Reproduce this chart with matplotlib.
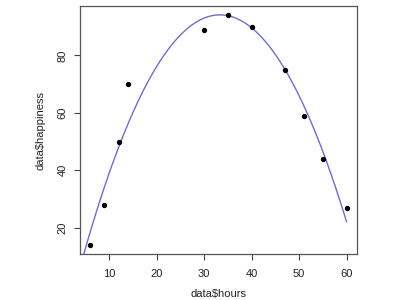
import numpy as np
import matplotlib
matplotlib.use("Agg")
import matplotlib.pyplot as plt

plt.rcParams["font.family"] = ["Liberation Sans", "DejaVu Sans"]

hours = [6, 9, 12, 14, 30, 35, 40, 47, 51, 55, 60]
happiness = [14, 28, 50, 70, 89, 94, 90, 75, 59, 44, 27]
x_ticks = [10, 20, 30, 40, 50, 60]
y_ticks = [20, 40, 60, 80]

# quadratic model, as in lm(happiness ~ hours + I(hours^2))
coef = np.polyfit(hours, happiness, 2)
grid = np.linspace(0, 60, 300)
fit = np.polyval(coef, grid)

fig = plt.figure(figsize=(4, 3), dpi=100)
ax = fig.add_axes([0.2, 0.153, 0.692, 0.827])

ax.plot(grid, fit, color="#6e6ec8", linewidth=1.0)
ax.scatter(hours, happiness, s=8, color="black", zorder=3)

# R-style 4% padding
xr = max(hours) - min(hours)
yr = max(happiness) - min(happiness)
ax.set_xlim(min(hours) - 0.04 * xr, max(hours) + 0.04 * xr)
ax.set_ylim(min(happiness) - 0.04 * yr, max(happiness) + 0.04 * yr)

ax.set_xticks(x_ticks)
ax.set_yticks(y_ticks)
ax.tick_params(length=4, width=0.8, color="#444444", labelcolor="#222222", labelsize=8)
ax.tick_params(axis="x", pad=7)
ax.tick_params(axis="y", pad=5)
for lab in ax.get_yticklabels():
    lab.set_rotation(90)
    lab.set_va("center")

for spine in ax.spines.values():
    spine.set_color("#555555")
    spine.set_linewidth(0.9)

ax.set_xlabel("data\\$hours", fontsize=8, labelpad=7, color="#222222")
ax.set_ylabel("data\\$happiness", fontsize=8, labelpad=9, color="#222222")

fig.savefig("out.png", dpi=100)
